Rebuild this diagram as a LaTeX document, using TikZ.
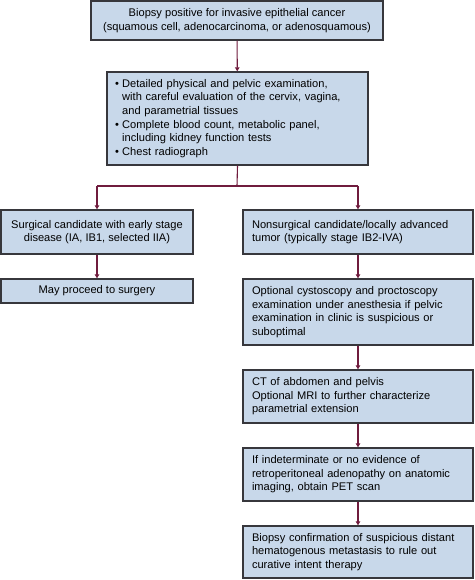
\documentclass[tikz,border=0pt]{standalone}
\usepackage{fontspec}
\setmainfont{Liberation Sans}
\usetikzlibrary{arrows.meta}
\definecolor{boxfill}{RGB}{200,216,234}
\definecolor{boxline}{RGB}{55,55,60}
\definecolor{arrowc}{RGB}{112,28,62}
\newcommand{\bul}{\makebox[7.2pt][l]{\textbullet}}
\newcommand{\ind}{\hspace*{7.2pt}}
\begin{document}
\begin{tikzpicture}[x=1pt,y=1pt,
  box/.style={draw=boxline, line width=1.4pt, fill=boxfill, inner sep=0pt,
    font=\fontsize{11.1}{13.6}\selectfont},
  cbox/.style={box, align=center},
  lbox/.style={box, align=left},
  conn/.style={draw=arrowc, line width=1.1pt},
  arr/.style={conn, -{Triangle[length=4pt,width=4.5pt]}}]
\useasboundingbox (0,0) rectangle (474,-580);
\node[cbox, minimum width=292, minimum height=39] (b1) at (237,-20.5)
  {Biopsy positive for invasive epithelial cancer\\(squamous cell, adenocarcinoma, or adenosquamous)};
\node[lbox, minimum width=261, minimum height=93, text width=245] (b2) at (237.5,-118.5)
  {\bul Detailed physical and pelvic examination,\\
   \ind with careful evaluation of the cervix, vagina,\\
   \ind and parametrial tissues\\
   \bul Complete blood count, metabolic panel,\\
   \ind including kidney function tests\\
   \bul Chest radiograph};
\node[cbox, minimum width=192, minimum height=44] (l1) at (97,-232)
  {Surgical candidate with early stage\\disease (IA, IB1, selected IIA)};
\node[cbox, minimum width=192, minimum height=24] (l2) at (97,-291)
  {May proceed to surgery};
\node[lbox, minimum width=230, minimum height=44, text width=212] (r1) at (358,-232)
  {Nonsurgical candidate/locally advanced\\tumor (typically stage IB2-IVA)};
\node[lbox, minimum width=230, minimum height=66, text width=212] (r2) at (358,-312)
  {Optional cystoscopy and proctoscopy\\examination under anesthesia if pelvic\\examination in clinic is suspicious or\\suboptimal};
\node[lbox, minimum width=230, minimum height=53, text width=212] (r3) at (358,-396.5)
  {CT of abdomen and pelvis\\Optional MRI to further characterize\\parametrial extension};
\node[lbox, minimum width=230, minimum height=53, text width=212] (r4) at (358,-474.5)
  {If indeterminate or no evidence of\\retroperitoneal adenopathy on anatomic\\imaging, obtain PET scan};
\node[lbox, minimum width=230, minimum height=52, text width=212] (r5) at (358,-552)
  {Biopsy confirmation of suspicious distant\\hematogenous metastasis to rule out\\curative intent therapy};
\coordinate (j) at (237,-186);
\coordinate (jl) at (97,-186);
\coordinate (jr) at (358,-186);
\draw[arr] (b1) -- (b2);
\draw[conn] (b2.south) -- (j);
\draw[conn] (jl) -- (jr);
\draw[arr] (jl) -- (l1.north);
\draw[arr] (jr) -- (r1.north);
\draw[arr] (l1) -- (l2);
\draw[arr] (r1) -- (r2);
\draw[arr] (r2) -- (r3);
\draw[arr] (r3) -- (r4);
\draw[arr] (r4) -- (r5);
\end{tikzpicture}
\end{document}
